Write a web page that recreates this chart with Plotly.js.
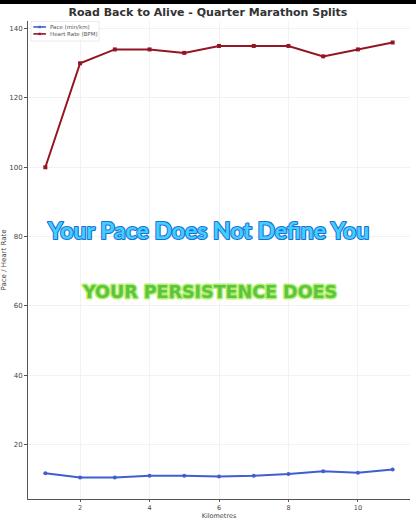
<!DOCTYPE html>
<html>
<head>
<meta charset="utf-8">
<script src="https://cdn.plot.ly/plotly-3.0.1.min.js"></script>
<style>
  html, body { margin: 0; padding: 0; background: #fff; }
  #bar { width: 416px; height: 4px; background: #000; }
  #plot { width: 416px; height: 516px; }
  g.annotation[data-index="0"] text {
    stroke: #1f6fd6; stroke-width: 2.2px; paint-order: stroke; stroke-linejoin: round;
  }
  g.annotation[data-index="1"] text {
    stroke: #b4f06e; stroke-width: 3px; paint-order: stroke; stroke-linejoin: round;
  }
</style>
</head>
<body>
<div id="bar"></div>
<div id="plot"></div>
<script>
// kilometre splits
const kilometres = [1, 2, 3, 4, 5, 6, 7, 8, 9, 10, 11];
const pace = [11.7, 10.5, 10.5, 11.0, 11.0, 10.8, 11.0, 11.5, 12.3, 11.9, 12.8];
const heartRate = [100, 130, 134, 134, 133, 135, 135, 135, 132, 134, 136];

const xTicks = [2, 4, 6, 8, 10];
const yTicks = [20, 40, 60, 80, 100, 120, 140];

const seriesNames = ["Pace (min/km)", "Heart Rate (BPM)"];
const seriesColors = ["#3f5fcf", "#941523"];

const plot = document.querySelector("#plot");

const tracePace = {
  x: kilometres,
  y: pace,
  mode: "lines+markers",
  name: seriesNames[0],
  line: { color: seriesColors[0], width: 2 },
  marker: { color: seriesColors[0], size: 4 },
};

const traceHeart = {
  x: kilometres,
  y: heartRate,
  mode: "lines+markers",
  name: seriesNames[1],
  line: { color: seriesColors[1], width: 2 },
  marker: { color: seriesColors[1], size: 4, symbol: "square" },
};

// small matplotlib-style legend box drawn by hand (plotly's legend rows are too tall)
const legendShapes = [
  {
    type: "rect", xref: "paper", yref: "paper",
    x0: 0.008, x1: 0.186, y0: 0.958, y1: 0.999,
    line: { color: "#dddddd", width: 0.6 }, fillcolor: "rgba(255,255,255,0.9)",
  },
];
const legendAnnotations = [];
const legendRows = [0.9875, 0.973];
seriesNames.forEach((name, i) => {
  legendShapes.push({
    type: "line", xref: "paper", yref: "paper",
    x0: 0.014, x1: 0.047, y0: legendRows[i], y1: legendRows[i],
    line: { color: seriesColors[i], width: 1.6 },
  });
  legendShapes.push({
    type: "rect", xref: "paper", yref: "paper",
    x0: 0.0275, x1: 0.0335, y0: legendRows[i] - 0.0025, y1: legendRows[i] + 0.0025,
    line: { width: 0 }, fillcolor: seriesColors[i],
  });
  legendAnnotations.push({
    x: 0.053, y: legendRows[i], xref: "paper", yref: "paper",
    xanchor: "left", yanchor: "middle", showarrow: false,
    text: name, font: { size: 5.5, color: "#555" },
  });
});

const gridColor = "#f2f2f2";

Plotly.newPlot(
  plot,
  [tracePace, traceHeart],
  {
    width: 416,
    height: 516,
    margin: { l: 28, r: 6, t: 17, b: 21 },
    paper_bgcolor: "#fff",
    plot_bgcolor: "#fff",
    font: { family: "DejaVu Sans", size: 7, color: "#444" },
    title: {
      text: "<b>Road Back to Alive - Quarter Marathon Splits</b>",
      font: { family: "DejaVu Sans", size: 11, color: "#333" },
      x: 0.5,
      xanchor: "center",
      y: 0.985,
      yanchor: "middle",
    },
    xaxis: {
      range: [0.5, 11.5],
      tickvals: xTicks,
      ticks: "outside",
      ticklen: 2,
      tickcolor: "#555",
      showline: true,
      linecolor: "#555",
      linewidth: 1,
      showgrid: true,
      gridcolor: gridColor,
      zeroline: false,
      tickfont: { size: 6.5, color: "#444" },
      title: { text: "Kilometres", font: { size: 6.5, color: "#444" }, standoff: 1 },
    },
    yaxis: {
      range: [4.3, 142.2],
      tickvals: yTicks,
      ticks: "outside",
      ticklen: 3,
      tickcolor: "#555",
      showline: true,
      linecolor: "#555",
      linewidth: 1,
      showgrid: true,
      gridcolor: gridColor,
      zeroline: false,
      tickfont: { size: 7, color: "#444" },
      title: { text: "Pace / Heart Rate", font: { size: 7, color: "#444" }, standoff: 4 },
    },
    showlegend: false,
    shapes: legendShapes,
    annotations: [
      {
        x: 5.67,
        y: 81.8,
        xref: "x",
        yref: "y",
        text: "Your Pace Does Not Define You",
        showarrow: false,
        font: { family: "Lato", size: 23, color: "#3fd0ff", weight: 700 },
      },
      {
        x: 5.72,
        y: 64.1,
        xref: "x",
        yref: "y",
        text: "Your Persistence Does",
        showarrow: false,
        font: { family: "DejaVu Sans", size: 17.5, color: "#5cc440", weight: 700, textcase: "upper" },
      },
    ].concat(legendAnnotations),
  },
  { displayModeBar: false, staticPlot: true }
);
</script>
</body>
</html>
